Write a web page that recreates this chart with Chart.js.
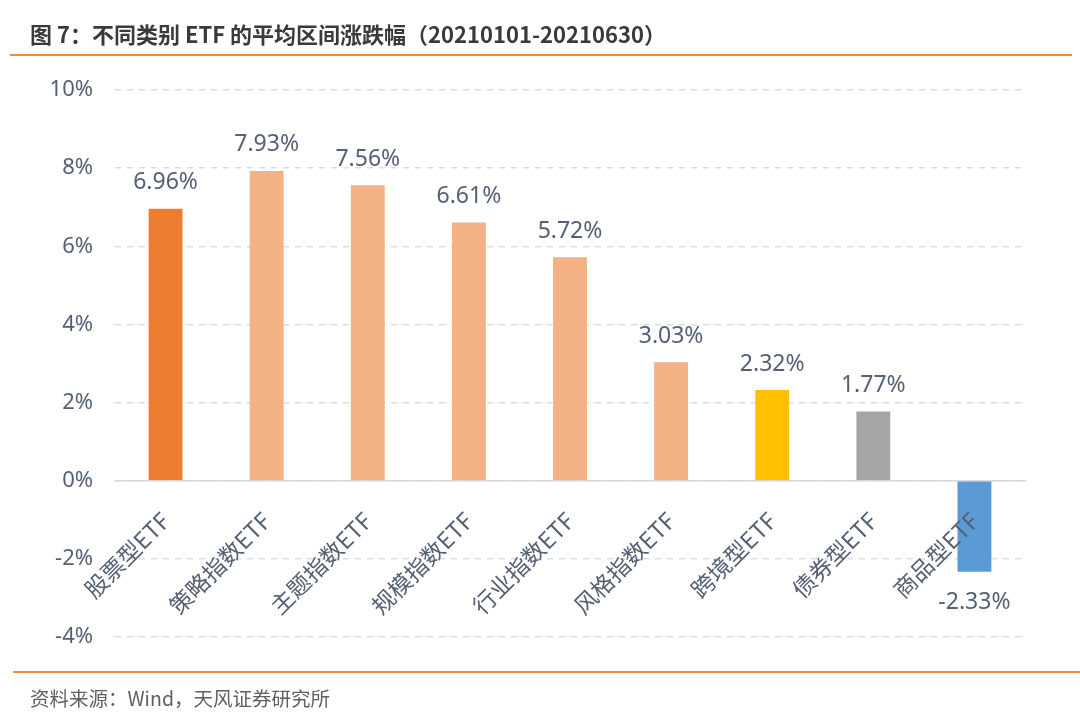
<!DOCTYPE html>
<html>
<head>
<meta charset="utf-8">
<script src="https://cdn.jsdelivr.net/npm/chart.js@4.4.0/dist/chart.umd.min.js"></script>
<style>
  html, body { margin: 0; padding: 0; background: #fff; }
  body { width: 1080px; height: 719px; position: relative; overflow: hidden;
         font-family: "Noto Sans CJK SC", "Noto Sans", sans-serif; }
  #title { position: absolute; left: 30px; top: 17px; font-size: 22px; font-weight: bold; color: #3a3a3a; white-space: nowrap; }
  #topLine { position: absolute; left: 10px; right: 8px; top: 54px; height: 2px; background: #ee8a3a; }
  #bottomLine { position: absolute; left: 13px; right: 0; top: 671px; height: 2px; background: #ee8a3a; }
  #source { position: absolute; left: 30px; top: 683px; font-size: 19.5px; color: #5f5f5f; white-space: nowrap; }
  #wrap { position: absolute; left: 0; top: 0; width: 1080px; height: 719px; }
</style>
</head>
<body>
<div id="wrap"><canvas id="etfChart"></canvas></div>
<div id="title">图 7：不同类别 ETF 的平均区间涨跌幅（20210101-20210630）</div>
<div id="topLine"></div>
<div id="bottomLine"></div>
<div id="source">资料来源：Wind，天风证券研究所</div>
<script>
// 各类ETF及其平均区间涨跌幅（%）
const categories = ["股票型ETF", "策略指数ETF", "主题指数ETF", "规模指数ETF", "行业指数ETF",
                    "风格指数ETF", "跨境型ETF", "债券型ETF", "商品型ETF"];
const returns = [6.96, 7.93, 7.56, 6.61, 5.72, 3.03, 2.32, 1.77, -2.33];
const barColors = ["#ED7D31", "#F4B183", "#F4B183", "#F4B183", "#F4B183",
                   "#F4B183", "#FFC000", "#A5A5A5", "#5B9BD5"];
const yTicks = [-4, -2, 0, 2, 4, 6, 8, 10];

const textColor = "#556074";
const fontFamily = '"Noto Sans", "Noto Sans CJK SC", sans-serif';

// 柱顶数值标签
const valueLabels = {
  id: "valueLabels",
  afterDatasetsDraw(chart) {
    const ctx = chart.ctx;
    const meta = chart.getDatasetMeta(0);
    ctx.save();
    ctx.font = "23px " + fontFamily;
    ctx.fillStyle = textColor;
    ctx.textAlign = "center";
    ctx.textBaseline = "middle";
    meta.data.forEach((bar, i) => {
      const v = returns[i];
      const y = v >= 0 ? bar.y - 26 : bar.y + 31;
      ctx.fillText(v.toFixed(2) + "%", bar.x, y);
    });
    ctx.restore();
  }
};

new Chart(document.getElementById("etfChart"), {
  type: "bar",
  data: {
    labels: categories,
    datasets: [{
      data: returns,
      backgroundColor: barColors,
      borderWidth: 0,
      categoryPercentage: 1,
      barPercentage: 0.335
    }]
  },
  options: {
    responsive: true,
    maintainAspectRatio: false,
    animation: false,
    layout: { padding: { left: 0, right: 55, top: 90, bottom: 82 } },
    plugins: { legend: { display: false }, tooltip: { enabled: false } },
    scales: {
      x: {
        position: { y: 0 },
        afterFit(scale) { scale.height = 0; },
        grid: { display: false, drawTicks: false },
        border: { display: true, color: "#d5dae2", width: 1.5 },
        ticks: {
          z: 1,
          minRotation: 45, maxRotation: 45, autoSkip: false,
          padding: 26, color: textColor,
          font: { size: 23, family: '"Noto Sans CJK SC", sans-serif' }
        }
      },
      y: {
        min: -4, max: 10,
        afterFit(scale) { scale.width = 115; },
        afterBuildTicks(scale) { scale.ticks = yTicks.map(v => ({ value: v })); },
        grid: { color: "#d9dee6", lineWidth: 1.5, drawTicks: false },
        border: { display: false, dash: [6, 6] },
        ticks: {
          padding: 22, color: textColor,
          font: { size: 22, family: fontFamily },
          callback: v => v + "%"
        }
      }
    }
  },
  plugins: [valueLabels]
});
</script>
</body>
</html>
